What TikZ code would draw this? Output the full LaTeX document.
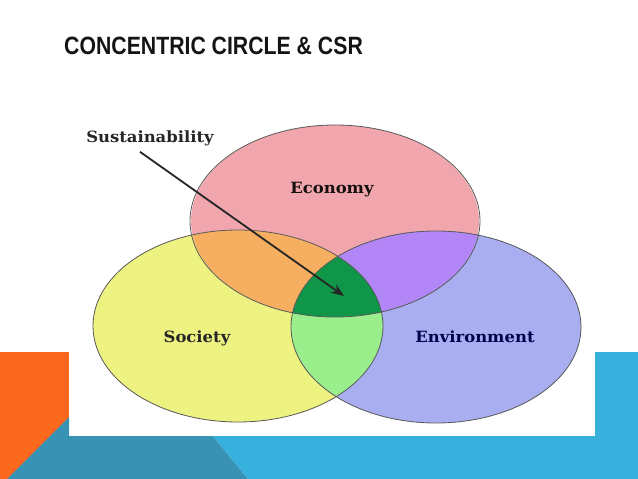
\documentclass[tikz,border=0pt]{standalone}
\usepackage{fontspec}
\newfontfamily\labelfont[FakeStretch=1.06]{DejaVu Serif}
\newfontfamily\titlefont[FakeStretch=0.85]{Liberation Sans}
\usepackage{tikz}
\usetikzlibrary{shapes.geometric, arrows.meta, positioning}
\definecolor{colEcon}{RGB}{240,166,172}
\definecolor{colSoc}{RGB}{238,242,128}
\definecolor{colEnv}{RGB}{168,174,240}
\definecolor{colEconSoc}{RGB}{246,174,96}
\definecolor{colEconEnv}{RGB}{178,134,246}
\definecolor{colSocEnv}{RGB}{155,238,140}
\definecolor{colCore}{RGB}{16,150,72}
\definecolor{colOrange}{RGB}{250,105,30}
\definecolor{colTeal}{RGB}{56,146,180}
\definecolor{colSky}{RGB}{56,176,222}

\begin{document}
\begin{tikzpicture}[
  x=1pt, y=-1pt,
  venn/.style={ellipse, minimum width=290pt, minimum height=192pt, inner sep=0pt,
               draw=black!65, line width=0.8pt},
  tag/.style={font=\labelfont\bfseries\fontsize{15.5}{18}\selectfont, text=#1, inner sep=1pt},
  arr/.style={-{Stealth[length=13pt, width=10pt]}, line width=1.8pt, black!85},
]
\useasboundingbox (0,0) rectangle (638,479);

% --- slide decoration ---
\fill[colOrange] (0,352) rectangle (69,479);
\fill[colTeal] (7,479) -- (69,417) -- (69,436) -- (213,436) -- (248,479) -- cycle;
\fill[colSky] (213,436) -- (595,436) -- (595,352) -- (638,352) -- (638,479) -- (248,479) -- cycle;

% --- title ---
\node[anchor=west, font=\titlefont\bfseries\fontsize{25}{28}\selectfont, text=black!92, inner sep=0pt]
  (title) at (64,46) {CONCENTRIC CIRCLE \& CSR};

% --- circles ---
\def\econpath{(335,221) ellipse [x radius=144, y radius=96]}
\def\socpath{(238,326) ellipse [x radius=145, y radius=96]}
\def\envpath{(436,327) ellipse [x radius=145, y radius=96]}

\fill[colEcon] \econpath;
\fill[colSoc] \socpath;
\fill[colEnv] \envpath;
\begin{scope}
  \clip \econpath;
  \fill[colEconSoc] \socpath;
  \fill[colEconEnv] \envpath;
\end{scope}
\begin{scope}
  \clip \socpath;
  \fill[colSocEnv] \envpath;
  \clip \envpath;
  \fill[colCore] \econpath;
\end{scope}

\node[venn] (econ) at (335,221) {};
\node[venn] (soc)  at (238,326) {};
\node[venn] (env)  at (436,327) {};

% --- labels ---
\node[tag={black!40!colEcon!15!black}] (econlbl) at (332,190) {Economy};
\node[tag={black!85}] (soclbl) at (197,338) {Society};
\node[tag={blue!30!black}] (envlbl) at (475,337) {Environment};
\node[tag={black!85}] (sus) at (150,138) {Sustainability};

\coordinate (core) at (344,296);
\draw[arr] ([xshift=-10pt, yshift=-5pt]sus.south) -- (core);

\end{tikzpicture}
\end{document}
